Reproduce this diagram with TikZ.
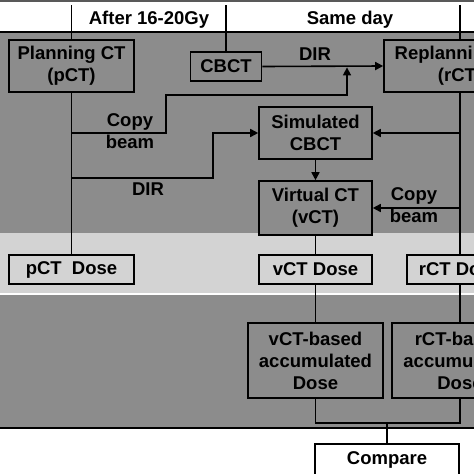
\documentclass[tikz,border=0pt]{standalone}
\usepackage{fontspec}
\setmainfont{Liberation Sans}
\usetikzlibrary{arrows.meta}
\definecolor{dkg}{HTML}{8C8C8C}
\definecolor{ltg}{HTML}{D3D3D3}
\begin{document}
\begin{tikzpicture}[x=1pt,y=-1pt,
  txt/.style={font=\fontsize{18.5}{22}\selectfont\bfseries, inner sep=0pt, align=center},
  box/.style={txt, draw, line width=1.6pt, fill=#1},
  box/.default=dkg,
  ln/.style={line width=1.6pt},
  arr/.style={ln, -{Triangle[length=8pt,width=8pt]}}]
\useasboundingbox (0,0) rectangle (474,474);
\clip (0,0) rectangle (474,474);
% backgrounds
\fill[white] (0,0) rectangle (474,474);
\fill[black!65] (0,0) rectangle (474,2);
\fill[dkg] (0,33) rectangle (474,233);
\fill[ltg] (0,233) rectangle (474,293);
\fill[dkg] (0,295) rectangle (474,427);
\draw[line width=1.6pt] (0,32) -- (474,32);
\draw[line width=2.2pt] (0,428) -- (474,428);
% headers
\node[txt, anchor=base] (h1) at (149,24) {After 16-20Gy};
\node[txt, anchor=base] (h2) at (350,24) {Same day};
% boxes
\node[box, minimum width=125pt, minimum height=52pt] (pct) at (71.5,66) {Planning CT\\(pCT)};
\node[box, minimum width=71pt, minimum height=29pt] (cbct) at (226,66.5) {CBCT};
\node[box, minimum width=152pt, minimum height=52pt] (rct) at (460,66) {Replanning CT\\(rCT)};
\node[box, minimum width=113pt, minimum height=52pt] (sim) at (315.5,133) {Simulated\\CBCT};
\node[box, minimum width=113pt, minimum height=54pt] (vct) at (315.5,208) {Virtual CT\\(vCT)};
\node[box=ltg, minimum width=125pt, minimum height=29pt] (pctd) at (71.5,269.5) {pCT\ \ Dose};
\node[box=ltg, minimum width=113pt, minimum height=29pt] (vctd) at (315.5,269.5) {vCT Dose};
\node[box=ltg, minimum width=106pt, minimum height=29pt] (rctd) at (460,269.5) {rCT Dose};
\node[box, minimum width=135pt, minimum height=75pt] (vcab) at (315.5,360.5) {vCT-based\\accumulated\\Dose};
\node[box, minimum width=136pt, minimum height=75pt] (rcab) at (460,360.5) {rCT-based\\accumulated\\Dose};
\node[box=white, minimum width=144pt, minimum height=32pt] (cmp) at (387,460) {Compare};
% labels
\node[txt] (dir1) at (315,54.5) {DIR};
\node[txt] (cbl1) at (130,131) {Copy\\beam};
\node[txt] (dir2) at (148,189) {DIR};
\node[txt] (cbl2) at (414,205.5) {Copy\\beam};
% header lines
\draw[ln] (pct.north) -- (pct.north |- 0,5);
\draw[ln] (cbct.north) -- (cbct.north |- 0,5);
\draw[ln] (rct.north) -- (rct.north |- 0,5);
% connectors
\draw[ln] (pct.south) -- (pctd.north);
\draw[arr] (cbct.east) -- (rct.west);
\coordinate (cb1) at (pct.south |- 0,133);
\coordinate (cbend) at (347,67.4);
\draw[arr] (cb1) -| (166,95) -| (cbend);
\coordinate (d2) at (pct.south |- 0,178);
\draw[arr] (d2) -| (213,133) -- (sim.west);
\draw[ln] (rct.south) -- (rctd.north);
\draw[arr] (rct.south |- sim.east) -- (sim.east);
\draw[arr] (rct.south |- vct.east) -- (vct.east);
\draw[arr] (sim.south) -- (vct.north);
\draw[ln] (vct.south) -- (vctd.north);
\draw[ln] (vctd.south) -- (vcab.north);
\draw[ln] (rctd.south) -- (rcab.north);
\draw[ln] (vcab.south) -- ++(0,24) -| (rcab.south);
\coordinate (j) at (387,422);
\draw[ln] (j) -- (cmp.north);
\end{tikzpicture}
\end{document}
